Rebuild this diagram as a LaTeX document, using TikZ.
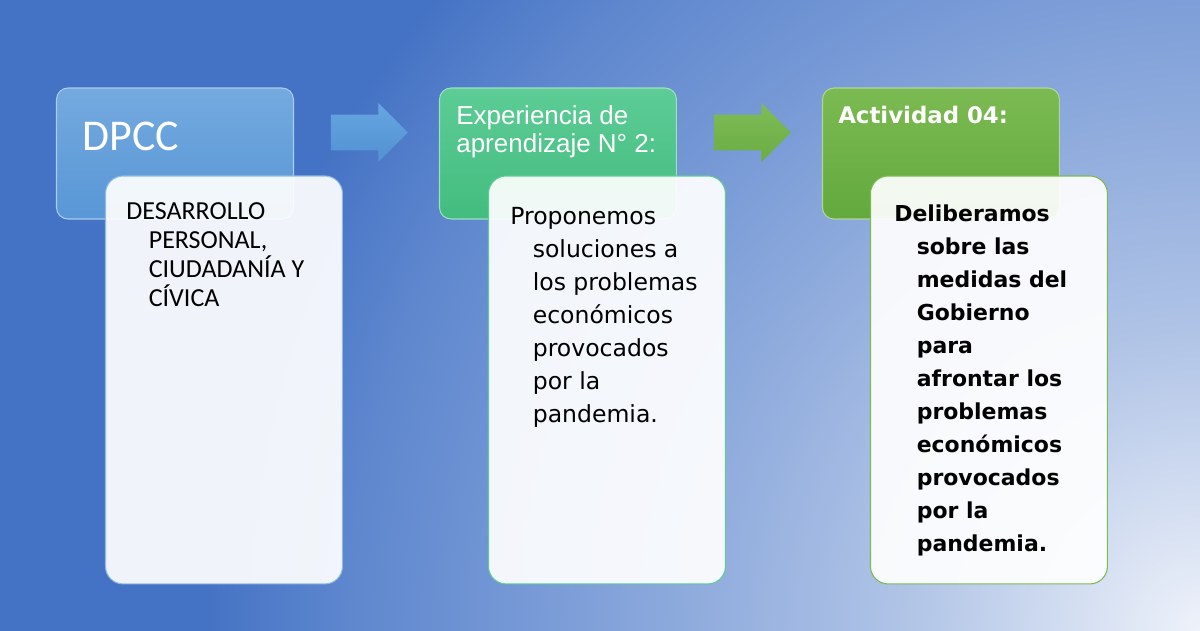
\documentclass[tikz,border=0pt]{standalone}
\usepackage{fontspec}
\newfontfamily\fontCalibri{Carlito}
\newfontfamily\fontArial{Liberation Sans}
\newfontfamily\fontComic{DejaVu Sans}
\usepackage{xcolor}
\definecolor{colorBgDark}{HTML}{4472C4}
\definecolor{colorBgMidC}{HTML}{5E87CE}
\definecolor{colorBgMidB}{HTML}{7D9ED8}
\definecolor{colorBgMidA}{HTML}{AFC3E6}
\definecolor{colorBgLight}{HTML}{EEF2FA}
\definecolor{colorHeadBlueTop}{HTML}{74AADF}
\definecolor{colorHeadBlue}{HTML}{5896D6}
\definecolor{colorHeadTealTop}{HTML}{5DCC96}
\definecolor{colorHeadTeal}{HTML}{43BC7F}
\definecolor{colorHeadGreenTop}{HTML}{7BBA52}
\definecolor{colorHeadGreen}{HTML}{63A93D}
\definecolor{colorArrowBlueTop}{HTML}{66A6E2}
\definecolor{colorArrowBlue}{HTML}{5291D2}
\definecolor{colorArrowGreenTop}{HTML}{7EBC57}
\definecolor{colorArrowGreen}{HTML}{6BAC43}
\usepackage{tikz}
\usetikzlibrary{positioning, shapes.arrows}
\pgfdeclareradialshading{bgGlow}{\pgfpoint{0bp}{0bp}}{color(0bp)=(colorBgLight); color(5.8bp)=(colorBgMidA); color(12.1bp)=(colorBgMidB); color(16.35bp)=(colorBgMidC); color(19.2bp)=(colorBgDark); color(50bp)=(colorBgDark)}
\newcommand\hangIn{\hspace*{0.45cm}}
\tikzset{
  head/.style={rounded corners=6.5pt, minimum width=4.74cm, minimum height=2.62cm, inner sep=0pt, line width=0.6pt},
  body/.style={rounded corners=10pt, minimum width=4.74cm, minimum height=8.16cm, inner sep=0pt, fill=white, fill opacity=0.92, line width=0.6pt},
  blockArrow/.style={single arrow, single arrow head extend=0.23cm, inner xsep=0pt, inner ysep=0.35cm, minimum height=1.54cm, text height=0pt, text depth=0pt},
  txt/.style={inner sep=0pt, align=left, text=black},
  headTxt/.style={inner sep=0pt, align=left, text=white}
}

\begin{document}
\begin{tikzpicture}[x=0.02cm, y=-0.02cm, node distance=2.9cm]
\useasboundingbox (0,0) rectangle (1200,630);
% background
\fill[colorBgDark] (0,0) rectangle (1200,630);
\begin{scope}
\clip (0,0) rectangle (1200,630);
\shade[shading=bgGlow] (1200,630) circle (26cm);
\end{scope}
% header boxes
\node[head, top color=colorHeadBlueTop, bottom color=colorHeadBlue, draw=colorHeadBlueTop!60!white] (h1) at (175,153.5) {};
\node[head, top color=colorHeadTealTop, bottom color=colorHeadTeal, draw=colorHeadTealTop!60!white, right=of h1] (h2) {};
\node[head, top color=colorHeadGreenTop, bottom color=colorHeadGreen, draw=colorHeadGreenTop!60!white, right=of h2] (h3) {};
% arrows
\node[blockArrow, top color=colorArrowBlueTop, bottom color=colorArrowBlue, right=0.73cm of h1.east, anchor=tail, yshift=0.42cm] (a1) {};
\node[blockArrow, top color=colorArrowGreenTop, bottom color=colorArrowGreen, right=0.73cm of h2.east, anchor=tail, yshift=0.42cm] (a2) {};
% text boxes
\node[body, draw=colorHeadBlueTop!80!white, below right=1.76cm and 0.98cm of h1.north west] (b1) {};
\node[body, draw=colorHeadTealTop, below right=1.76cm and 0.98cm of h2.north west] (b2) {};
\node[body, draw=colorHeadGreenTop, below right=1.76cm and 0.96cm of h3.north west] (b3) {};
% texts
\node[headTxt, font=\fontCalibri\fontsize{25}{30}\selectfont, below right=0.68cm and 0.52cm of h1.north west] (h1text) {DPCC};
\node[headTxt, font=\fontArial\fontsize{14.8}{15.9}\selectfont, below right=0.35cm and 0.34cm of h2.north west] (h2text) {Experiencia de\\aprendizaje N° 2:};
\node[headTxt, font=\fontComic\bfseries\fontsize{13}{16}\selectfont, below right=0.37cm and 0.32cm of h3.north west] (h3text) {Actividad 04:};
\node[txt, font=\fontCalibri\fontsize{14.8}{16.5}\selectfont, below right=0.54cm and 0.42cm of b1.north west] (b1text) {DESARROLLO\\\hangIn PERSONAL,\\\hangIn CIUDADANÍA Y\\\hangIn CÍVICA};
\node[txt, font=\fontComic\fontsize{13.4}{18.8}\selectfont, below right=0.63cm and 0.44cm of b2.north west] (b2text) {Proponemos\\\hangIn soluciones a\\\hangIn los problemas\\\hangIn económicos\\\hangIn provocados\\\hangIn por la\\\hangIn pandemia.};
\node[txt, font=\fontComic\bfseries\fontsize{12.5}{18.8}\selectfont, below right=0.58cm and 0.48cm of b3.north west] (b3text) {Deliberamos\\\hangIn sobre las\\\hangIn medidas del\\\hangIn Gobierno\\\hangIn para\\\hangIn afrontar los\\\hangIn problemas\\\hangIn económicos\\\hangIn provocados\\\hangIn por la\\\hangIn pandemia.};
\end{tikzpicture}
\end{document}
